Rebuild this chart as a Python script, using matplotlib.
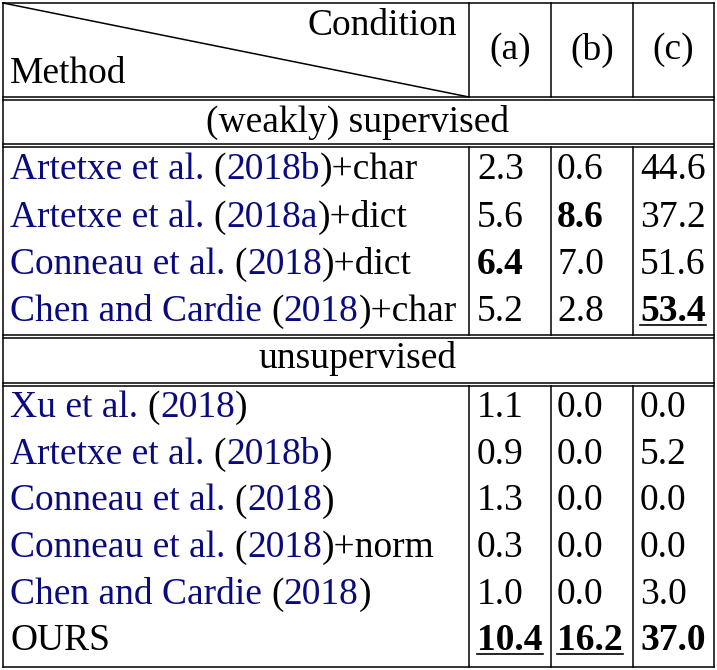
import matplotlib
matplotlib.use("Agg")
import matplotlib.pyplot as plt

methods_weak = [("Artetxe et al. ", "2018b", "+char"),
                ("Artetxe et al. ", "2018a", "+dict"),
                ("Conneau et al. ", "2018", "+dict"),
                ("Chen and Cardie ", "2018", "+char")]
vals_weak = [["2.3", "0.6", "44.6"], ["5.6", "8.6", "37.2"],
             ["6.4", "7.0", "51.6"], ["5.2", "2.8", "53.4"]]
bold_weak = [[0, 0, 0], [0, 1, 0], [1, 0, 0], [0, 0, 1]]
under_weak = [[0, 0, 0], [0, 0, 0], [0, 0, 0], [0, 0, 1]]
methods_un = [("Xu et al. ", "2018", ""), ("Artetxe et al. ", "2018b", ""),
              ("Conneau et al. ", "2018", ""), ("Conneau et al. ", "2018", "+norm"),
              ("Chen and Cardie ", "2018", ""), None]
vals_un = [["1.1", "0.0", "0.0"], ["0.9", "0.0", "5.2"], ["1.3", "0.0", "0.0"],
           ["0.3", "0.0", "0.0"], ["1.0", "0.0", "3.0"], ["10.4", "16.2", "37.0"]]
bold_un = [[0]*3]*5 + [[1, 1, 1]]
under_un = [[0]*3]*5 + [[1, 1, 0]]
cols = ["(a)", "(b)", "(c)"]

plt.rcParams['font.family'] = ['Liberation Serif', 'DejaVu Serif']
FS = 27
BLUE = "#0a0a80"
DY = 4
fig = plt.figure(figsize=(7.17, 6.7), dpi=100)
ax = fig.add_axes([0, 0, 1, 1])
ax.set_xlim(0, 717); ax.set_ylim(670, 0); ax.axis("off")
fig.canvas.draw()
r = fig.canvas.get_renderer()

def hl(y, x0=3, x1=714, double=False):
    ax.plot([x0, x1], [y, y], color="k", lw=1.1)
    if double:
        ax.plot([x0, x1], [y + 3, y + 3], color="k", lw=1.1)

def vl(x, y0, y1):
    ax.plot([x, x], [y0, y1], color="k", lw=1.1)

def width(t):
    return t.get_window_extent(r).width

def txt(x, y, s, **kw):
    return ax.text(x, y + DY, s, fontsize=FS, va="center", **kw)

def seq(x, y, pieces):
    for s, c, w in pieces:
        if not s:
            continue
        t = txt(x, y, s, color=c, fontweight=w, ha="left")
        x += width(t)

colx = [469, 551, 633]
numx = [477, 557, 640]
hl(3); hl(667)
vl(3, 3, 667); vl(714, 3, 667)
for cx in colx:
    vl(cx, 3, 97); vl(cx, 147, 335); vl(cx, 386, 667)
hl(97, double=True); hl(144, double=True); hl(335, double=True); hl(383, double=True)
ax.plot([3, 469], [3, 97], color="k", lw=1.1)
txt(457, 22, "Condition", ha="right")
txt(10, 70, "Method", ha="left")
for cx, nx, c in zip(colx, [551, 633, 714], cols):
    txt((cx + nx) / 2, 46, c, ha="center")
txt(358, 118, "(weakly) supervised", ha="center")
txt(358, 355, "unsupervised", ha="center")

def row(y, m, vals, bolds, unders):
    if m is None:
        txt(10, y, "OURS")
    else:
        a, yr, suf = m
        seq(10, y, [(a, BLUE, "normal"), ("(", "k", "normal"), (yr, BLUE, "normal"),
                    (")" + suf, "k", "normal")])
    for x, v, b, u in zip(numx, vals, bolds, unders):
        t = txt(x, y, v, fontweight="bold" if b else "normal")
        if u:
            w = width(t)
            ax.plot([x, x + w], [y + 17, y + 17], color="k", lw=1.2)

for i, (m, v, b, u) in enumerate(zip(methods_weak, vals_weak, bold_weak, under_weak)):
    row(166 + 47.3 * i, m, v, b, u)
for i, (m, v, b, u) in enumerate(zip(methods_un, vals_un, bold_un, under_un)):
    row(404 + 46.6 * i, m, v, b, u)

fig.savefig("out.png", dpi=100)
